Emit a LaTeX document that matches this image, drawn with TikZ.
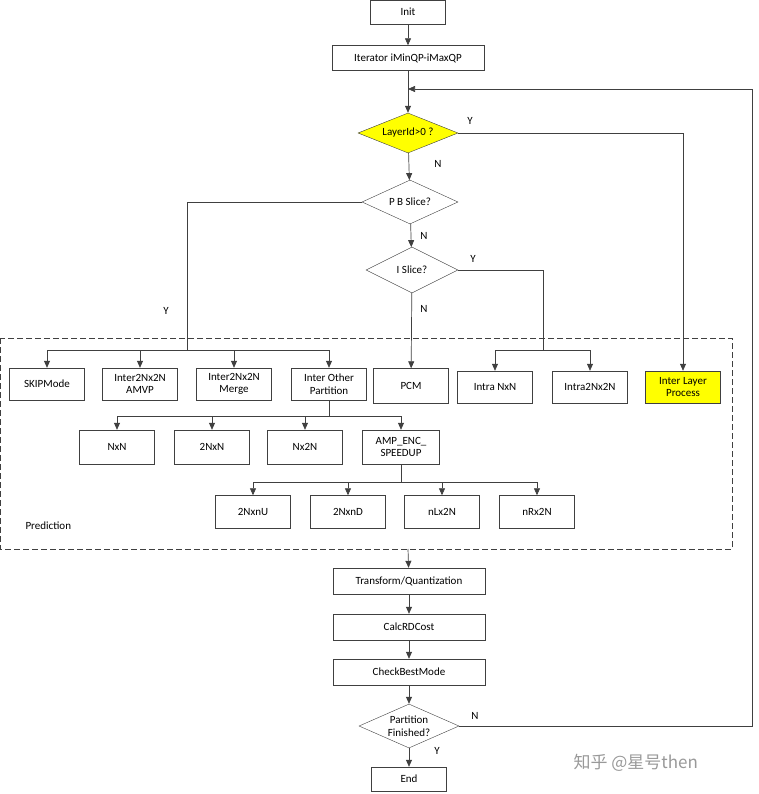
\documentclass[tikz,border=0pt]{standalone}
\usepackage{fontspec}
\setmainfont{Carlito}
\newfontfamily\cjk{Noto Sans CJK SC}
\usetikzlibrary{shapes.geometric,arrows.meta}
\definecolor{ln}{HTML}{404040}
\definecolor{yel}{HTML}{FFFF00}
\begin{document}
\begin{tikzpicture}[x=1pt,y=-1pt,
  box/.style={draw=ln,fill=white,minimum width=75pt,minimum height=32pt,align=center,font=\fontsize{11}{12.5}\selectfont,inner sep=1pt},
  wbox/.style={box,minimum width=152pt,minimum height=25pt},
  sbox/.style={box,minimum height=24pt},
  dia/.style={draw=ln,diamond,aspect=2.3,inner sep=0.5pt,align=center,font=\fontsize{11}{12.5}\selectfont,minimum width=96pt,minimum height=44pt},
  ar/.style={draw=ln,-{Triangle[length=7pt,width=6pt]},line width=0.7pt},
  pl/.style={draw=ln,line width=0.7pt},
  lb/.style={font=\fontsize{11}{12}\selectfont}]
\useasboundingbox (0,0) rectangle (759,794);
\draw[ln,dashed,dash pattern=on 6pt off 3pt,line width=0.7pt] (0,338) rectangle (732,549);
\node[lb,anchor=west] (pred) at (22,526) {Prediction};
\node[sbox] (init) at (408,12) {Init};
\node[wbox] (iter) at (408,58) {Iterator iMinQP-iMaxQP};
\node[dia,fill=yel,minimum width=100pt,minimum height=40pt] (layer) at (408,133) {LayerId>0 ?};
\node[dia] (pb) at (410,202) {P B Slice?};
\node[dia,minimum width=92pt,minimum height=46pt] (is) at (412,270) {I Slice?};
\node[box] (skip) at (47,384) {SKIPMode};
\node[box] (amvp) at (140,384) {Inter2Nx2N\\AMVP};
\node[box] (merge) at (234,384) {Inter2Nx2N\\Merge};
\node[box] (other) at (329,384) {Inter Other\\Partition};
\node[box,minimum height=35pt] (pcm) at (411,386) {PCM};
\node[box] (inxn) at (495,387) {Intra NxN};
\node[box] (i2n) at (590,387) {Intra2Nx2N};
\node[box,fill=yel] (ilp) at (683,387) {Inter Layer\\Process};
\node[box,minimum height=34pt] (nxn) at (117,447) {NxN};
\node[box,minimum height=34pt] (tnxn) at (212,447) {2NxN};
\node[box,minimum height=34pt] (nx2n) at (305,447) {Nx2N};
\node[box,minimum height=34pt,minimum width=77pt] (amp) at (401,447) {AMP\_ENC\_\\SPEEDUP};
\node[box,minimum height=33pt] (nu) at (253,512) {2NxnU};
\node[box,minimum height=33pt] (nd) at (348,512) {2NxnD};
\node[box,minimum height=33pt] (nl) at (442,512) {nLx2N};
\node[box,minimum height=33pt] (nr) at (537,512) {nRx2N};
\node[wbox,minimum height=26pt] (tq) at (409,581) {Transform/Quantization};
\node[wbox,minimum height=26pt] (rd) at (409,627) {CalcRDCost};
\node[wbox,minimum height=26pt] (cb) at (409,672) {CheckBestMode};
\node[dia,minimum width=100pt] (pf) at (409,726) {Partition\\Finished?};
\node[sbox] (end) at (409,779) {End};
\coordinate (boxb) at (408,549);
\coordinate (loop) at (408,89);
\draw[ar] (init) -- (iter);
\draw[ar] (iter) -- (layer);
\draw[ar] (pf.east) -- (752,726) -- (752,89) -- (loop);
\node[lb] (ln) at (475,716) {N};
\draw[ar] (layer.east) -| (ilp.north);
\node[lb] (ly) at (470,121) {Y};
\draw[ar] (layer) -- (pb);
\node[lb] (lpn) at (438,164) {N};
\draw[pl] (pb.west) -| (187,350);
\node[lb] (py) at (166,311) {Y};
\draw[pl] (skip.north |- 0,350) -- (other.north |- 0,350);
\foreach \n in {skip,amvp,merge,other} \draw[ar] (\n.north |- 0,350) -- (\n.north);
\draw[ar] (pb) -- (is);
\node[lb] (isn) at (424,236) {N};
\draw[ar] (is) -- (pcm);
\node[lb] (pcn) at (424,309) {N};
\draw[pl] (is.east) -| (543,350);
\node[lb] (isy) at (473,259) {Y};
\draw[pl] (inxn.north |- 0,350) -- (i2n.north |- 0,350);
\foreach \n in {inxn,i2n} \draw[ar] (\n.north |- 0,350) -- (\n.north);
\draw[pl] (other.south) -- (329,416);
\draw[pl] (nxn.north |- 0,416) -- (amp.north |- 0,416);
\foreach \n in {nxn,tnxn,nx2n,amp} \draw[ar] (\n.north |- 0,416) -- (\n.north);
\draw[pl] (amp.south) -- (401,482);
\draw[pl] (nu.north |- 0,482) -- (nr.north |- 0,482);
\foreach \n in {nu,nd,nl,nr} \draw[ar] (\n.north |- 0,482) -- (\n.north);
\draw[ar] (boxb) -- (tq);
\draw[ar] (tq) -- (rd);
\draw[ar] (rd) -- (cb);
\draw[ar] (cb) -- (pf);
\draw[ar] (pf) -- (end);
\node[lb] (ey) at (437,751) {Y};
\node[anchor=west,text=gray!80,font=\cjk\fontsize{17}{19}\selectfont] (wm) at (570,763) {知乎 @星号then};
\end{tikzpicture}
\end{document}
